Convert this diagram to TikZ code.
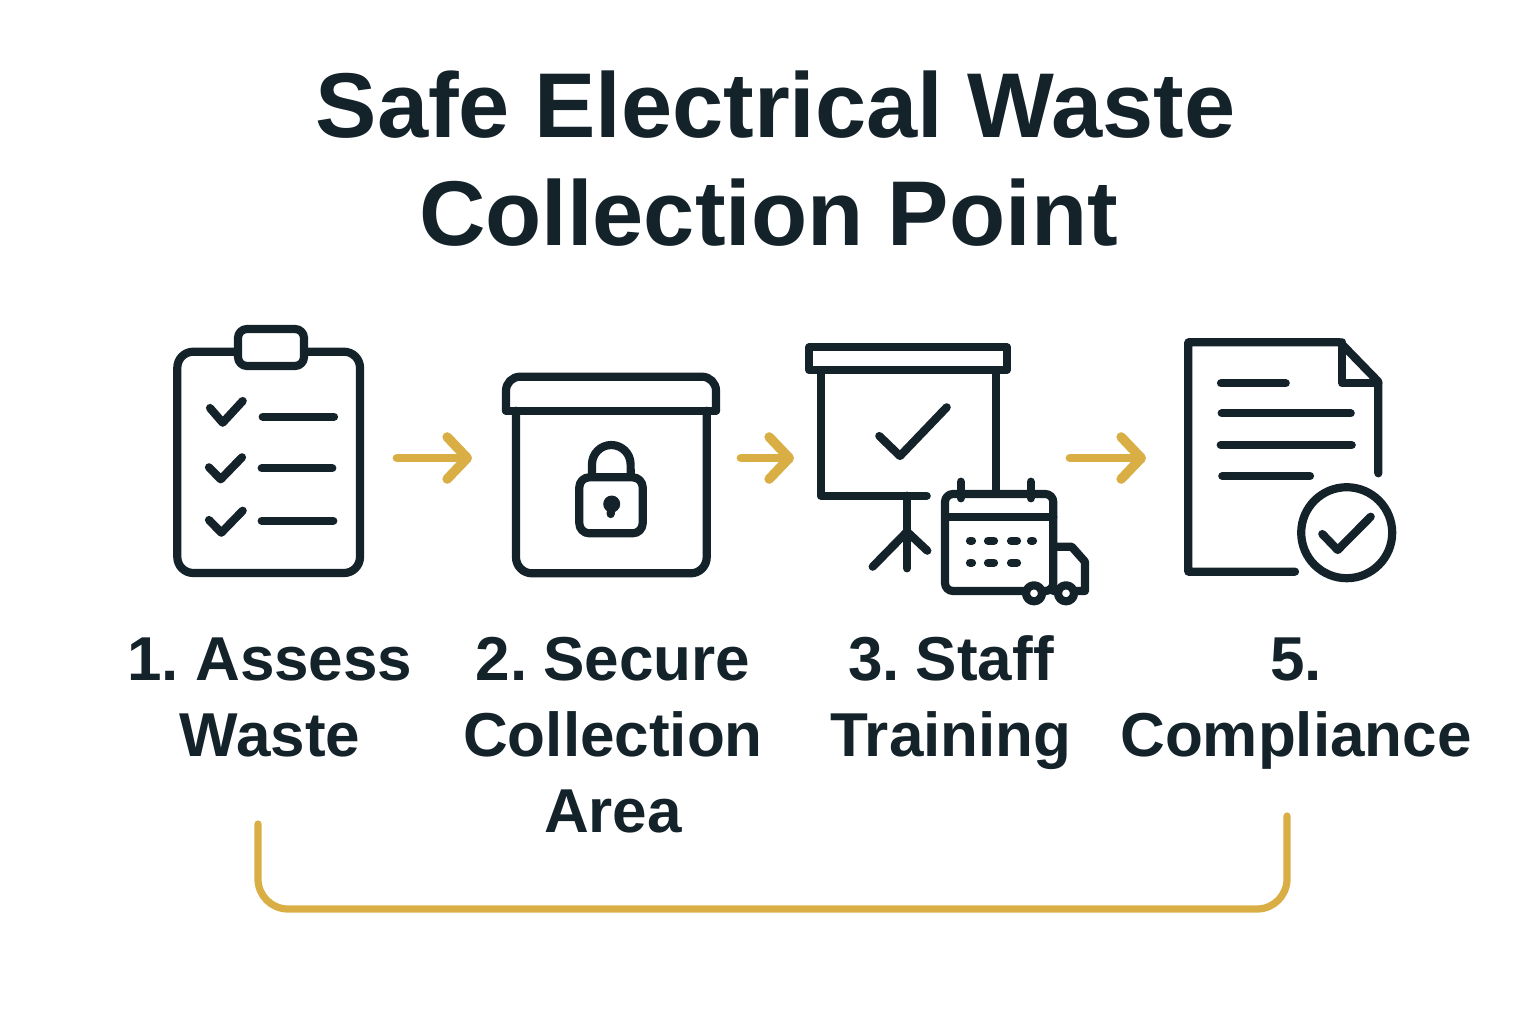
\documentclass[tikz,border=0pt]{standalone}
\usepackage{fontspec}
\setmainfont[WordSpace=0.6]{Liberation Sans}
\newfontfamily\ttlfont[WordSpace=0.95]{Liberation Sans}
\usetikzlibrary{arrows.meta}
\definecolor{inkc}{HTML}{14222A}
\definecolor{goldc}{HTML}{D9AE45}
\tikzset{
    ic/.style={draw=inkc, line width=4.1pt, line cap=round, line join=round},
    flow/.style={draw=goldc, line width=4.4pt, line cap=round,
        -{Straight Barb[length=10pt, width=21pt, round, line width=4.8pt]}},
    brk/.style={draw=goldc, line width=3.6pt, line cap=round, rounded corners=15pt},
    hold/.style={minimum height=20pt, inner sep=0pt, outer sep=0pt},
    ttl/.style={text=inkc, font=\fontsize{46}{54}\selectfont\ttlfont\bfseries, align=center},
    steplbl/.style={text=inkc, font=\fontsize{31}{38}\selectfont\bfseries, align=center,
        anchor=north, inner sep=0pt},
}
\newcommand{\lb}{\node[steplbl]}
\newcommand{\hd}{\node[hold]}

\begin{document}
\begin{tikzpicture}[x=0.5pt, y=-0.5pt]
    \fill[white] (0,0) rectangle (1536,1024);

    \node[ttl] (title) at (775.5,159) {Safe Electrical Waste\\\hspace*{-7pt}Collection Point};

    \hd[minimum width=94pt] (assess) at (269,458) {};
    \hd[minimum width=107.5pt] (secure) at (610.5,458) {};
    \hd[minimum width=102pt] (staff) at (908,458) {};
    \hd[minimum width=100pt] (comply) at (1286,458) {};

    \lb (l1) at (270,637) {1. Assess\\Waste};
    \lb (l2) at (613,637) {2. Secure\\Collection\\Area};
    \lb (l3) at (951,635) {3. Staff\\Training};
    \lb (l5) at (1296,637) {5.\\Compliance};

    \draw[flow, shorten <=17pt, shorten >=15.5pt] (assess) -- (secure);
    \draw[flow, shorten <=11.5pt, shorten >=6pt] (secure) -- (staff);
    \draw[flow, shorten <=30pt, shorten >=20pt] (staff) -- (comply);

    \coordinate (brka) at (258,824);
    \coordinate (brkb) at (1287,816);
    \draw[brk] (brka) |- (772,909) -| (brkb);

    \draw[ic, rounded corners=8pt, fill=white] (177.3,351.7) rectangle (360,573);
    \draw[ic, rounded corners=4.5pt, fill=white] (238,329) rectangle (304,366);
    \draw[ic] (210,408) -- (222.7,422.7) -- (242.7,401);
    \draw[ic] (262.7,416.7) -- (334,416.7);
    \draw[ic] (209,467.3) -- (220.7,479.3) -- (242,457.3);
    \draw[ic] (261.7,468.3) -- (332.3,468.3);
    \draw[ic] (209,520) -- (221.3,532.7) -- (242.7,510.7);
    \draw[ic] (261.7,520.7) -- (333.3,520.7);

    \draw[ic, rounded corners=7pt] (506,410.7) -- (506,376.7) -- (716,376.7) -- (716,410.7);
    \draw[ic] (506,410.7) -- (716,410.7);
    \draw[ic, rounded corners=8pt] (516,410.7) -- (516,573.3) -- (706.7,573.3) -- (706.7,410.7);
    \draw[ic, rounded corners=5pt] (579.3,477.3) rectangle (642.7,533.3);
    \draw[ic] (592,476) -- (592,464.3) arc[start angle=180, end angle=360, radius=19.3] -- (630.7,476);
    \fill[inkc] (611.7,504) circle[radius=8.5];
    \draw[ic] (611.7,504) -- (610.7,514);

    \draw[ic] (809.3,347.3) rectangle (1007,370);
    \draw[ic] (926.7,495.7) -- (820.7,495.7) -- (820.7,370);
    \draw[ic] (996,370) -- (996,493);
    \draw[ic] (907,495.7) -- (907,568.3);
    \draw[ic] (872.7,566.7) -- (907,531.7) -- (927.3,550.7);
    \draw[ic] (879.3,436) -- (900,456) -- (946.7,407.3);

    \draw[ic, rounded corners=4pt] (945,494) rectangle (1053.3,591);
    \draw[ic] (945,517.3) -- (1053.3,517.3);
    \draw[ic] (960.7,481.7) -- (960.7,498.3);
    \draw[ic] (1030.7,481.7) -- (1030.7,498.3);
    \foreach \xa/\xb in {970/972,988/994,1011/1017,1031/1033} {
        \draw[ic] (\xa,540.7) -- (\xb,540.7);
    }
    \foreach \xa/\xb in {970/972,988/994,1011/1017} {
        \draw[ic] (\xa,562.7) -- (\xb,562.7);
    }
    \draw[ic] (1053.3,546.7) -- (1071.7,546.7) -- (1085,561.7) -- (1085,591) -- (1053.3,591);
    \draw[ic, fill=white] (1034,593.3) circle[radius=8];
    \draw[ic, fill=white] (1066,593.3) circle[radius=8];

    \draw[ic] (1378.3,473.3) -- (1378.3,381.7) -- (1340,342.3) -- (1188.3,342.3) -- (1188.3,571.7) -- (1295,571.7);
    \draw[ic] (1342.3,342.3) -- (1342.3,383.3) -- (1378.3,383.3);
    \draw[ic] (1221,383.3) -- (1285.7,383.3);
    \draw[ic] (1221.7,413.3) -- (1350.7,413.3);
    \draw[ic] (1220.7,445) -- (1351.7,445);
    \draw[ic] (1222.3,476) -- (1310,476);
    \draw[ic] (1346.7,532.7) circle[radius=45.5];
    \draw[ic] (1322.3,534) -- (1337.7,550) -- (1370.7,516.7);
\end{tikzpicture}
\end{document}
